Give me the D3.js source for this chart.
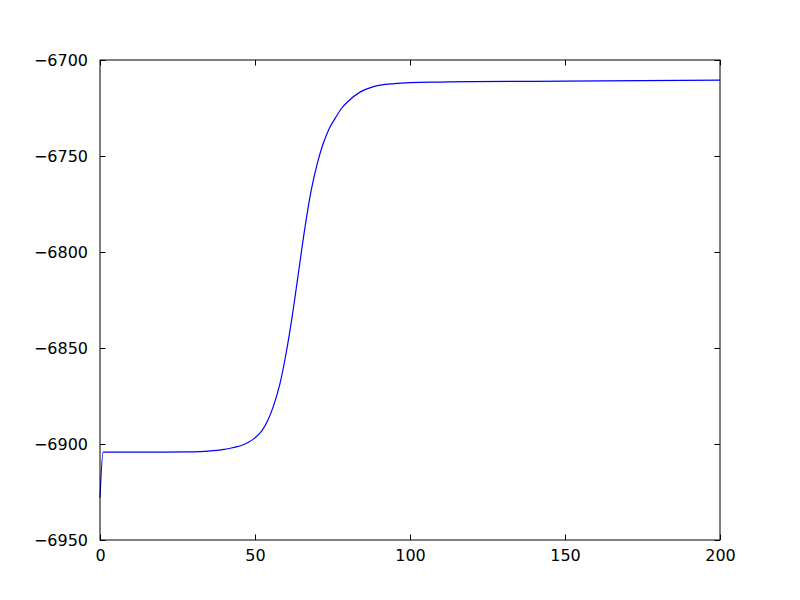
<!DOCTYPE html>
<html>
<head>
<meta charset="utf-8">
<script src="https://cdn.jsdelivr.net/npm/d3@7"></script>
<style>
  body { margin: 0; background: #fff; }
  svg { display: block; }
  .tick text { font-family: "DejaVu Sans", sans-serif; font-size: 16px; fill: #000; }
</style>
</head>
<body>
<svg id="svg" width="800" height="600"></svg>
<script>
// iteration / value samples
const iterations = [0, 1, 5, 10, 20, 30, 35, 40, 42, 44, 46, 48, 50, 52, 54, 56, 58, 60, 62, 64, 66, 68, 70, 72, 74, 76, 78, 80, 84, 88, 95, 100, 110, 120, 150, 200];
const values = [-6928, -6904.2, -6904.2, -6904.2, -6904.2, -6904.1, -6903.7, -6902.8, -6902.2, -6901.5, -6900.5, -6899, -6896.8, -6893.6, -6888.2, -6880, -6869, -6853, -6833.5, -6811, -6788.5, -6769, -6754.5, -6743.5, -6735.5, -6730, -6725, -6721.6, -6716.6, -6714, -6712.3, -6711.8, -6711.5, -6711.3, -6711, -6710.5];
const xTicks = [0, 50, 100, 150, 200];
const yTicks = [-6950, -6900, -6850, -6800, -6750, -6700];

const svg = d3.select("#svg");
const width = 800, height = 600;
const margin = { top: 60, right: 80, bottom: 60, left: 100 };
const chartWidth = width - margin.left - margin.right;
const chartHeight = height - margin.top - margin.bottom;

const chart = svg.append("g")
    .attr("transform", "translate(" + margin.left + "," + margin.top + ")");

const xScale = d3.scaleLinear().domain([0, 200]).range([0, chartWidth]);
const yScale = d3.scaleLinear().domain([-6950, -6700]).range([chartHeight, 0]);

const fmt = d => d3.format("d")(d).replace("-", "\u2212");
const tickLen = 5.5;

// the curve
const data = iterations.map((x, i) => ({ x: x, y: values[i] }));
chart.append("path")
    .datum(data)
    .attr("fill", "none")
    .attr("stroke", "#0000ff")
    .attr("stroke-width", 1.2)
    .attr("d", d3.line().x(d => xScale(d.x)).y(d => yScale(d.y)).curve(d3.curveMonotoneX));

// axes, ticks point inward on all four sides
chart.append("g")
    .attr("transform", "translate(0," + chartHeight + ")")
    .call(d3.axisBottom(xScale).tickValues(xTicks).tickFormat(fmt).tickSizeInner(-tickLen).tickSizeOuter(0).tickPadding(10));
chart.append("g")
    .call(d3.axisTop(xScale).tickValues(xTicks).tickFormat("").tickSizeInner(-tickLen).tickSizeOuter(0));
chart.append("g")
    .call(d3.axisLeft(yScale).tickValues(yTicks).tickFormat(fmt).tickSizeInner(-tickLen).tickSizeOuter(0).tickPadding(12));
chart.append("g")
    .attr("transform", "translate(" + chartWidth + ",0)")
    .call(d3.axisRight(yScale).tickValues(yTicks).tickFormat("").tickSizeInner(-tickLen).tickSizeOuter(0));

chart.selectAll(".domain").remove();
chart.selectAll(".tick line").attr("stroke", "#000");

// frame
chart.append("rect")
    .attr("width", chartWidth)
    .attr("height", chartHeight)
    .attr("fill", "none")
    .attr("stroke", "#000")
    .attr("stroke-width", 1);
</script>
</body>
</html>
